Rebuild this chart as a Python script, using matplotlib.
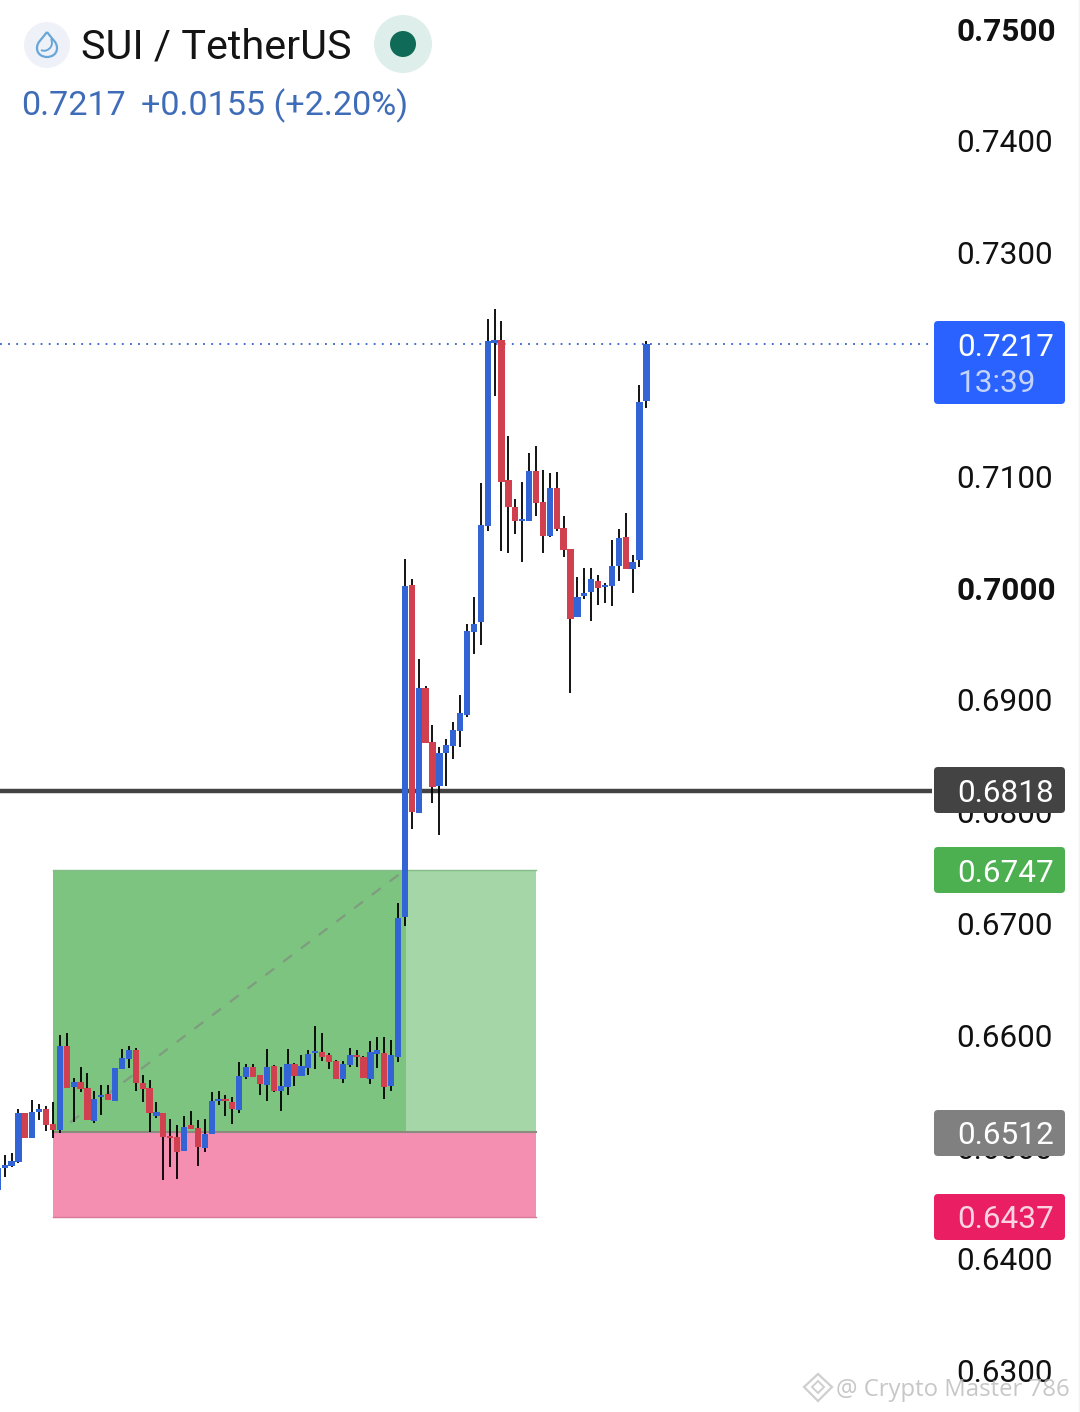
import numpy as np
import matplotlib
matplotlib.use("Agg")
import matplotlib.pyplot as plt
from matplotlib.patches import FancyBboxPatch, Circle, PathPatch, Polygon
from matplotlib.path import Path

plt.rcParams['font.family'] = ['Roboto', 'DejaVu Sans']

# candle values, oldest first
opens = [.64616,.64810,.64834,.64864,.65308,.65084,.65317,.65341,.65203,.65153,.65904,.65540,.65579,.65525,.65233,.65445,
         .65475,.65415,.65698,.65788,.65868,.65570,.65525,.65281,.65302,.65099,.65093,.64968,.65198,.65174,.64995,.65114,
         .65415,.65433,.65403,.65332,.65627,.65719,.65642,.65555,.65725,.65501,.65540,.65740,.65636,.65704,.65841,.65850,
         .65823,.65770,.65609,.65734,.65820,.65808,.65609,.65832,.65844,.65546,.65808,.67053,.70027,.67991,.69103,.68620,
         .68230,.68522,.68590,.68724,.68864,.69609,.69694,.70550,.72189,.72218,.70967,.70722,.70603,.70603,.71047,.70773,
         .70466,.70892,.70535,.70350,.69739,.69924,.69960,.70064,.70007,.70022,.70201,.70454,.70168,.70246,.71676]
highs = [.64840,.64929,.64944,.65341,.65308,.65421,.65385,.65367,.65406,.66002,.66017,.65615,.65719,.65659,.65501,.65555,
         .65555,.65707,.65874,.65904,.65883,.65645,.65600,.65406,.65308,.65248,.65198,.65278,.65323,.65242,.65251,.65490,
         .65504,.65466,.65445,.65764,.65740,.65743,.65642,.65877,.65734,.65719,.65877,.65749,.65823,.65868,.66083,.66023,
         .65838,.65779,.65770,.65883,.65868,.65814,.65948,.65981,.65987,.65957,.67185,.70256,.70080,.69365,.69124,.68775,
         .68581,.68650,.68805,.69043,.69678,.69922,.70937,.72406,.72493,.72388,.71360,.70797,.70952,.71205,.71271,.71056,
         .71026,.71035,.70645,.70350,.70094,.70177,.70183,.70117,.70049,.70430,.70526,.70669,.70296,.71816,.72209]
lows = [.64500,.64736,.64825,.64855,.65084,.65084,.65242,.65147,.65078,.65129,.65531,.65227,.65495,.65242,.65218,.65287,
        .65421,.65415,.65698,.65704,.65504,.65406,.65132,.65257,.64706,.64825,.64715,.64968,.65165,.64831,.64959,.65114,
        .65376,.65278,.65207,.65308,.65606,.65630,.65466,.65412,.65495,.65326,.65466,.65546,.65636,.65645,.65695,.65773,
        .65698,.65606,.65576,.65719,.65719,.65615,.65564,.65704,.65427,.65504,.65764,.66978,.67842,.67991,.68611,.68075,
        .67792,.68233,.68468,.68575,.68850,.69410,.69492,.70514,.71721,.70335,.70311,.70484,.70228,.70603,.70645,.70311,
        .70460,.70514,.70281,.69060,.69739,.69900,.69706,.69849,.69870,.69843,.70064,.70168,.69954,.70192,.71607]
closes = [.64810,.64840,.64876,.65302,.65084,.65314,.65341,.65198,.65153,.65904,.65531,.65582,.65519,.65242,.65427,.65466,
          .65421,.65707,.65794,.65868,.65570,.65522,.65302,.65311,.65087,.65084,.64959,.65177,.65165,.65004,.65117,.65409,
          .65430,.65415,.65341,.65636,.65713,.65630,.65564,.65713,.65501,.65546,.65740,.65639,.65725,.65832,.65859,.65802,
          .65761,.65609,.65743,.65823,.65802,.65621,.65850,.65868,.65540,.65823,.67051,.70018,.68000,.69103,.68611,.68224,
          .68522,.68596,.68730,.68879,.69615,.69678,.70562,.72212,.72218,.70952,.70722,.70600,.70618,.71047,.70758,.70466,
          .70892,.70526,.70341,.69721,.69918,.69954,.70079,.70004,.70028,.70198,.70448,.70168,.70231,.71664,.72183]

ticks = [0.75, 0.74, 0.73, 0.72, 0.71, 0.70, 0.69, 0.68, 0.67, 0.66, 0.65, 0.64, 0.63]
tick_labels = ["0.7500", "0.7400", "0.7300", "", "0.7100", "0.7000", "0.6900", "0.6800", "0.6700", "0.6600", "0.6500", "0.6400", "0.6300"]
bold_ticks = ["0.7500", "0.7000"]

# levels as they sit on the chart, a hair off the printed labels
last_line = 0.72185
sl_line = 0.6818
box_top = 0.67478
box_mid = 0.65135
box_bottom = 0.6437

blue = "#3264d6"
red = "#d1404f"

fig = plt.figure(figsize=(10.8, 14.12), dpi=100)
ax = fig.add_axes([0, 0, 1, 1])
ax.set_xlim(-0.68, 155.84)
ax.set_ylim(0.62630, 0.75259)
for s in ax.spines.values():
    s.set_visible(False)

# price scale sits inside the canvas on the right
ax.yaxis.tick_right()
ax.set_yticks(ticks)
ax.set_yticklabels(tick_labels)
ax.tick_params(axis='y', length=0, pad=-124 * 0.72, labelsize=22.7, labelcolor="#111111")
ax.set_xticks([])
for lab in ax.get_yticklabels():
    if lab.get_text() in bold_ticks:
        lab.set_fontweight("bold")
    lab.set_y(lab.get_position()[1])

# long position boxes
ax.fill_between([7, 58.2], box_mid, box_top, color="#7cc47f", lw=0, zorder=1)
ax.fill_between([58.2, 77.0], box_mid, box_top, color="#a5d6a7", lw=0, zorder=1)
ax.fill_between([7, 77.0], box_bottom, box_mid, color="#f48fb1", lw=0, zorder=1)
ax.plot([7, 77.0], [box_mid, box_mid], color="#8a8a7e", lw=1.5, zorder=1.2)
ax.plot([7, 77.0], [box_top, box_top], color="#85bd88", lw=1, zorder=1.2)
ax.plot([7, 77.0], [box_bottom, box_bottom], color="#d9789a", lw=1, zorder=1.2)
ax.plot([9.5, 58], [0.6522, box_top], color="#7f9c7f", lw=1.6, ls=(0, (5, 5)), zorder=1.3)

# price lines
right_end = (932 - 4.7) / 6.9
ax.plot([-0.68, right_end], [sl_line, sl_line], color="#434343", lw=3.2, zorder=1.5, solid_capstyle="butt")
ax.plot([-0.68, right_end], [last_line, last_line], color="#2f62c8", lw=1.3, ls=(0, (1, 3.5)), zorder=1.5)

# candles
x = np.arange(-1, len(opens) - 1)
o = np.array(opens)
h = np.array(highs)
l = np.array(lows)
c = np.array(closes)
colors = [blue if c[i] >= o[i] else red for i in range(len(o))]
ax.vlines(x, l, h, color="black", lw=1.3, zorder=2)
ax.bar(x, c - o, bottom=o, width=0.9, color=colors, lw=0, zorder=3)

# overlay in pixel coordinates for header, labels and watermark
ov = fig.add_axes([0, 0, 1, 1], facecolor="none")
ov.set_xlim(0, 1080)
ov.set_ylim(1412, 0)
ov.axis("off")

ov.add_patch(Circle((47, 45), 23, color="#eef2f8", lw=0))
ov.add_patch(Circle((403, 44), 29, color="#deefeb", lw=0))
ov.add_patch(Circle((403, 44), 13, color="#0f6b57", lw=0))
drop = Path([(47, 32), (42, 39), (37, 42), (37, 48), (37, 54), (42, 57), (47, 57), (52, 57), (57, 54), (57, 48), (57, 42), (52, 39), (47, 32)],
            [1, 4, 4, 4, 4, 4, 4, 4, 4, 4, 4, 4, 4])
ov.add_patch(PathPatch(drop, fc="none", ec="#68a6d8", lw=1.6))
inner = Path([(51, 39), (55, 47), (46, 53), (41, 50)], [1, 4, 4, 4])
ov.add_patch(PathPatch(inner, fc="none", ec="#68a6d8", lw=1.4))

ov.text(81, 47, "SUI / TetherUS", fontsize=29.8, color="#141414", va="center", ha="left")
ov.text(21, 106, "0.7217", fontsize=24.6, color="#3f6cb8", va="center", ha="left")
ov.text(141, 106, "+0.0155 (+2.20%)", fontsize=24.6, color="#3f6cb8", va="center", ha="left")

# (top, bottom, colour, text colour, text, second line)
labels = [
    (321, 404, "#2962ff", "#ffffff", "0.7217", "13:39"),
    (767, 813, "#434343", "#ffffff", "0.6818", None),
    (847, 893, "#4caf50", "#ffffff", "0.6747", None),
    (1110, 1156, "#808080", "#ffffff", "0.6512", None),
    (1194, 1240, "#e91e63", "#fbd3e2", "0.6437", None),
]
for top, bottom, col, tcol, txt, sub in labels:
    ov.add_patch(FancyBboxPatch((934 + 3, top + 3), 131 - 6, bottom - top - 6,
                                boxstyle="round,pad=3,rounding_size=4", fc=col, ec="none"))
    if sub is None:
        ov.text(957, (top + bottom) / 2 + 3, txt, fontsize=22.7, color=tcol, va="center", ha="left")
    else:
        ov.text(957, top + 26, txt, fontsize=22.7, color=tcol, va="center", ha="left")
        ov.text(957, top + 63, sub, fontsize=22.7, color="#c3d3fb", va="center", ha="left")

# watermark
ov.text(836, 1390, "@ Crypto Master 786", fontsize=17.2, color="#b9b9b9", alpha=0.8,
        family="Open Sans", va="center", ha="left")
ov.add_patch(Polygon([(818, 1374), (832, 1387), (818, 1401), (804, 1387)], fc="none", ec="#cfcfcf", lw=1.6))
ov.add_patch(Polygon([(818, 1381), (824, 1387), (818, 1393), (812, 1387)], fc="none", ec="#cfcfcf", lw=1.4))
ov.plot([1078.5, 1078.5], [0, 1412], color="#f3f3f3", lw=1)

fig.savefig("out.png", dpi=100)
